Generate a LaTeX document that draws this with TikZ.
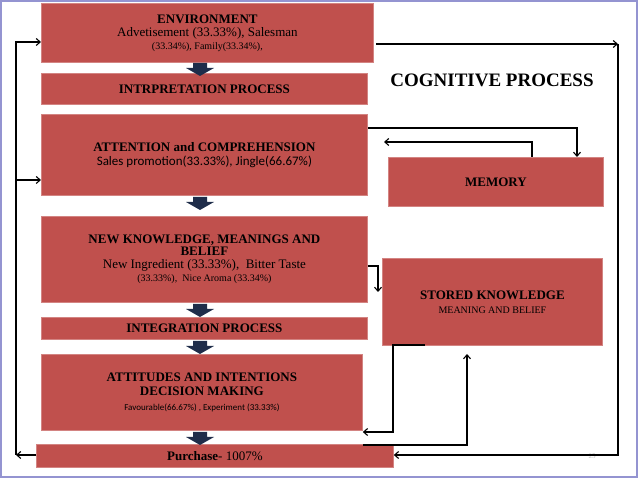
\documentclass[tikz,border=0pt]{standalone}
\usepackage{fontspec}
\setmainfont{Liberation Serif}
\newfontfamily\calfnt{Carlito}
\usetikzlibrary{arrows.meta}
\definecolor{boxred}{HTML}{C0504D}
\definecolor{navy}{HTML}{1F2D4A}
\begin{document}
\begin{tikzpicture}[x=1pt,y=-1pt,
  box/.style={fill=boxred,draw=boxred!70!white,line width=0.8pt,align=center,inner sep=0pt},
  ln/.style={line width=1.1pt,black},
  arr/.style={ln,-{Straight Barb[length=4pt,width=7pt]}}]
\useasboundingbox (0,0) rectangle (638,478);
\draw[draw=gray!60!blue!60,line width=1.2pt] (1,1) rectangle (637,477);
\newcommand\bx[6]{\node[box,minimum width=#4-#2,minimum height=#5-#3,anchor=north west] (#1) at (#2,#3) {#6};}
\bx{env}{41}{3}{373}{62}{\fontsize{13}{16}\selectfont\bfseries ENVIRONMENT\\[1pt]\fontsize{13}{16}\selectfont Advetisement (33.33\%), Salesman\\[1pt](33.34\%), Family(33.34\%),}
\bx{int}{41}{73}{367}{104}{\fontsize{13}{16}\selectfont\bfseries INTRPRETATION PROCESS}
\bx{att}{41}{114}{367}{195}{\fontsize{13}{16}\selectfont\bfseries ATTENTION and COMPREHENSION\\[2pt]\calfnt\fontsize{13}{16}\selectfont Sales promotion(33.33\%), Jingle(66.67\%)}
\bx{mem}{388}{157}{603}{206}{\fontsize{13}{16}\selectfont\bfseries MEMORY}
\bx{nk}{41}{216}{367}{302}{\fontsize{13}{16}\selectfont\bfseries NEW KNOWLEDGE, MEANINGS AND\\\fontsize{13}{16}\selectfont\bfseries BELIEF\\[1pt]\fontsize{13}{16}\selectfont New Ingredient (33.33\%),\ \ Bitter Taste\\[1pt](33.33\%),\ \ Nice Aroma (33.34\%)}
\bx{st}{382}{258}{602}{345}{\fontsize{13}{17}\selectfont\bfseries STORED KNOWLEDGE\\[2pt]MEANING AND BELIEF}
\bx{ip}{41}{317}{367}{339}{\fontsize{13}{16}\selectfont\bfseries INTEGRATION PROCESS}
\bx{ad}{41}{354}{362}{430}{\fontsize{13}{16}\selectfont\bfseries ATTITUDES AND INTENTIONS\\[2pt]\fontsize{13}{16}\selectfont\bfseries DECISION MAKING\\[3pt]\calfnt\fontsize{9}{11}\selectfont Favourable(66.67\%) , Experiment (33.33\%)}
\bx{pu}{36}{444}{393}{467}{\fontsize{13}{16}\selectfont\textbf{Purchase}- 1007\%}
\node[font=\fontsize{19}{22}\selectfont\bfseries] (cog) at (492,80) {COGNITIVE PROCESS};
\node[font=\fontsize{7}{8}\selectfont,text=gray!50] (pg) at (592,456) {25};
\foreach \y in {63,197,304,341,432}{
  \fill[navy] (193,\y) -- (207,\y) -- (207,\y+5) -- (214,\y+5) -- (200,\y+13) -- (186,\y+5) -- (193,\y+5) -- cycle;}
\coordinate (lb) at (16,455);
\coordinate (lt) at (16,42);
\draw[arr] (pu.west |- 0,455) -- (lb);
\draw[arr] (lb) -- (lt) -- (env.west |- 0,42);
\draw[arr] (16,180) -- (att.west |- 0,180);
\coordinate (rt) at (618,44);
\coordinate (rb) at (618,455);
\draw[arr] (376,44) -- (rt);
\draw[arr] (rt) -- (rb) -- (pu.east |- 0,455);
\draw[arr] (368,128) -- (577,128) -- (mem.north -| 577,0);
\draw[arr] (mem.north -| 532,0) -- (532,142) -- (384,142);
\draw[arr] (nk.east |- 0,266) -- (378,266) -- (378,292);
\draw[arr] (425,345) -- (393,345) -- (393,432) -- (ad.east |- 0,432);
\draw[arr] (ad.east |- 0,445) -- (467,445) -- (467,354);
\end{tikzpicture}
\end{document}
